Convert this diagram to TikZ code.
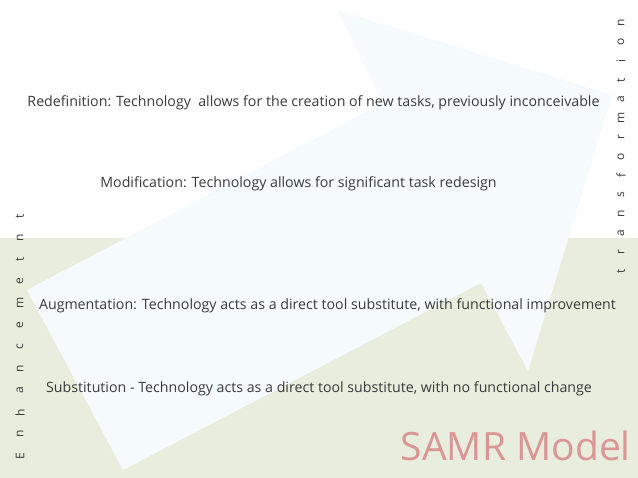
\documentclass[tikz,border=0pt]{standalone}
\usepackage{fontspec}
\setmainfont{Open Sans}
\usetikzlibrary{positioning}
\definecolor{bggreen}{RGB}{233,237,221}
\definecolor{arrowblue}{RGB}{245,250,253}
\definecolor{textgrey}{RGB}{58,58,58}
\definecolor{samrpink}{RGB}{217,150,148}
\tikzset{
  level/.style={anchor=base,text=textgrey,inner sep=0pt,font=\fontsize{14.2}{17}\selectfont},
  vletter/.style={rotate=90,inner sep=0pt,text=textgrey,font=\fontsize{12}{14}\selectfont},
  title/.style={anchor=base east,inner sep=0pt,text=samrpink,font=\fontsize{39}{45}\selectfont}
}
\begin{document}
\begin{tikzpicture}[x=1pt,y=-1pt]
	\useasboundingbox (0,0) rectangle (638,478);
	% background and the big arrow
	\fill[white] (0,0) rectangle (638,238);
	\fill[bggreen] (0,238) rectangle (638,478);
	\fill[arrowblue] (27,290) -- (383,103) -- (337,10) -- (612,95) -- (528,371) -- (481,283) -- (123,470) -- cycle;
	% the four levels
	\node[level] (R) at (313.5,107) {Redefinition: Technology\ \ allows for the creation of new tasks, previously inconceivable};
	\node[level] (M) at (298.5,188) {Modification: Technology allows for significant task redesign};
	\node[level] (A) at (327.5,310) {Augmentation: Technology acts as a direct tool substitute, with functional improvement};
	\node[level] (S) at (319,393) {Substitution - Technology acts as a direct tool substitute, with no functional change};
	\node[title] (T) at (631,461) {SAMR Model};
	% side words
	\foreach \l [count=\i] in {E,n,h,a,n,c,e,m,e,t,n,t}
		\node[vletter] (enh\i) at (20,{456-21.8*(\i-1)}) {\l};
	\foreach \l [count=\i] in {t,r,a,n,s,f,o,r,m,a,t,i,o,n}
		\node[vletter] (tra\i) at (621,{271-19.1*(\i-1)}) {\l};
\end{tikzpicture}
\end{document}
